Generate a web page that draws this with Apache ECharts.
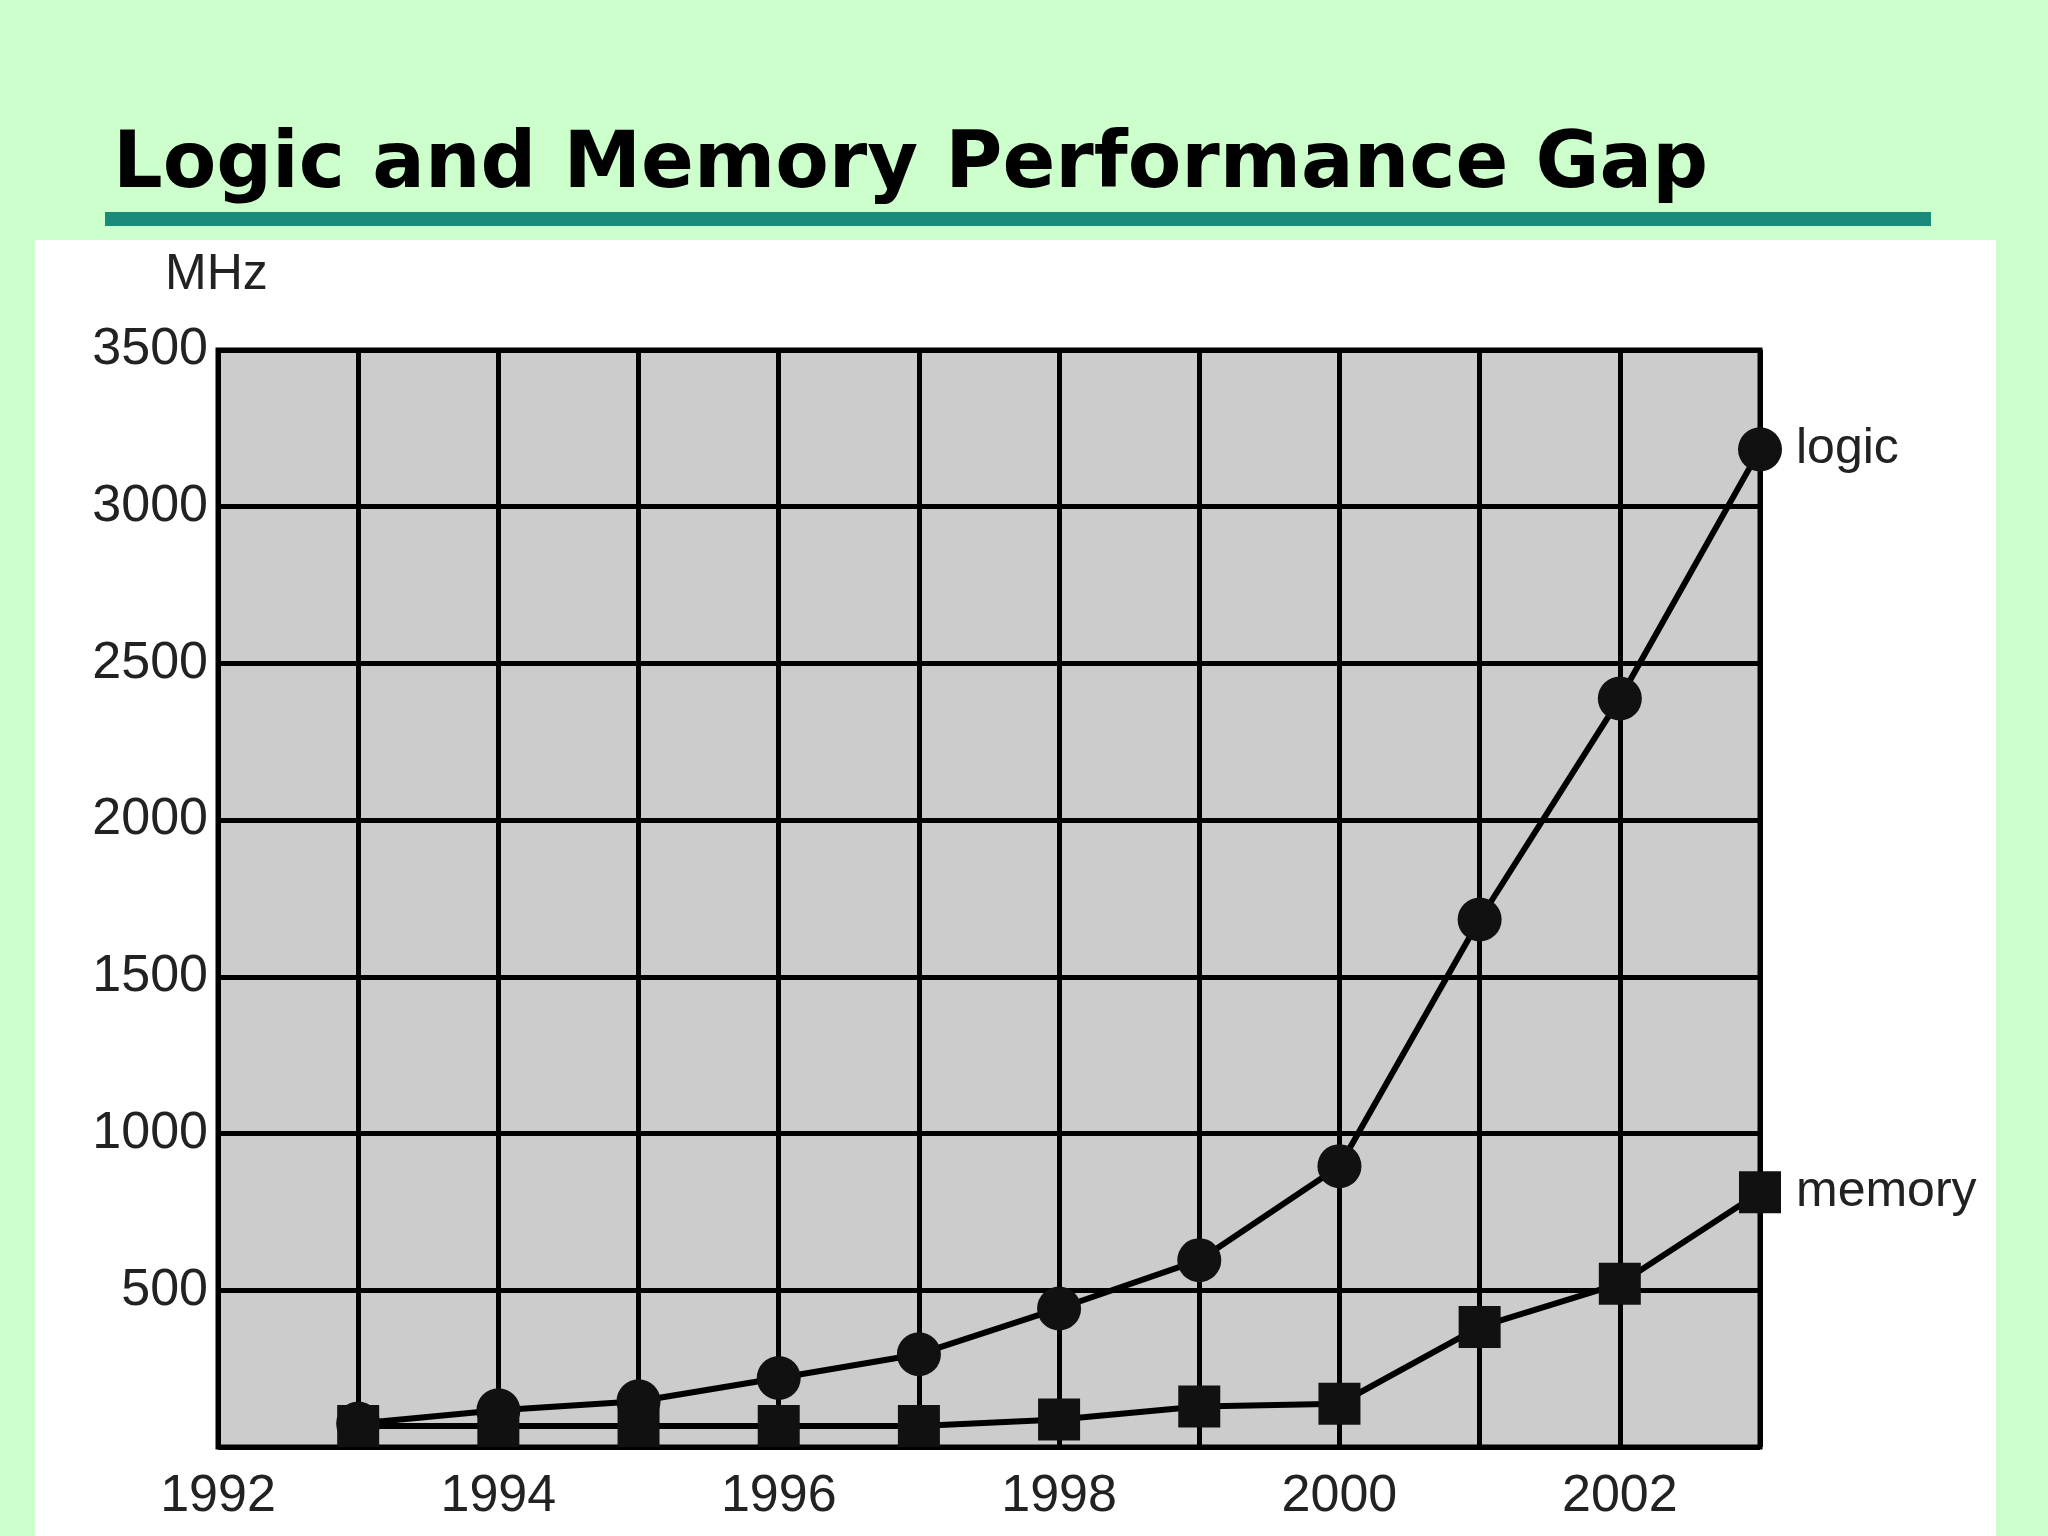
<!DOCTYPE html>
<html>
<head>
<meta charset="utf-8">
<script src="https://cdn.jsdelivr.net/npm/echarts@6/dist/echarts.min.js"></script>
<style>
  html, body { margin: 0; padding: 0; background: #ccffcc; }
  #chart { width: 2048px; height: 1536px; }
</style>
</head>
<body>
<div id="chart"></div>
<script>
// years and MHz values
const years = [1993, 1994, 1995, 1996, 1997, 1998, 1999, 2000, 2001, 2002, 2003];
const logic = [75, 117, 146, 220, 296, 442, 596, 896, 1683, 2388, 3183];
const memory = [67, 67, 67, 67, 67, 88, 129, 138, 383, 521, 813];

const pairs = (vals) => years.map((y, i) => [y, vals[i]]);

const chart = echarts.init(document.getElementById('chart'));
const font = 'Liberation Sans, Arial, sans-serif';

chart.setOption({
  backgroundColor: '#ccffcc',
  animation: false,
  graphic: [
    { type: 'rect', shape: { x: 35, y: 240, width: 1961, height: 1300 }, style: { fill: '#ffffff' }, z: -10 },
    { type: 'rect', shape: { x: 105, y: 212, width: 1826, height: 14 }, style: { fill: '#1a8a7a' } },
    { type: 'text', left: 113, top: 128, style: { text: 'Logic and Memory Performance Gap', font: 'bold 78px "DejaVu Sans", sans-serif', fill: '#000' } },
    { type: 'text', left: 165, top: 250, style: { text: 'MHz', font: '50px ' + font, fill: '#222' } }
  ],
  grid: { left: 218, right: 288, top: 350, bottom: 89, show: true, backgroundColor: '#cccccc', borderColor: '#000', borderWidth: 5 },
  xAxis: {
    type: 'value', min: 1992, max: 2003, interval: 1,
    axisLine: { show: false }, axisTick: { show: false },
    splitLine: { lineStyle: { color: '#000', width: 5 } },
    axisLabel: { color: '#222', fontSize: 52, fontFamily: font, margin: 24,
      formatter: v => (v % 2 === 0 && v < 2003) ? String(v) : '' }
  },
  yAxis: {
    type: 'value', min: 0, max: 3500, interval: 500,
    axisLine: { show: false }, axisTick: { show: false },
    splitLine: { lineStyle: { color: '#000', width: 5 } },
    axisLabel: { color: '#222', fontSize: 52, fontFamily: font, margin: 10,
      formatter: v => v === 0 ? '' : String(v) }
  },
  series: [
    {
      name: 'logic', type: 'line', data: pairs(logic),
      symbol: 'circle', symbolSize: 44,
      lineStyle: { color: '#000', width: 6 }, itemStyle: { color: '#111' },
      endLabel: { show: true, formatter: '{a}', color: '#222', fontSize: 50, fontFamily: font, distance: 36 }
    },
    {
      name: 'memory', type: 'line', data: pairs(memory),
      symbol: 'rect', symbolSize: 42,
      lineStyle: { color: '#000', width: 6 }, itemStyle: { color: '#111' },
      endLabel: { show: true, formatter: '{a}', color: '#222', fontSize: 50, fontFamily: font, distance: 36 }
    }
  ]
});
</script>
</body>
</html>
